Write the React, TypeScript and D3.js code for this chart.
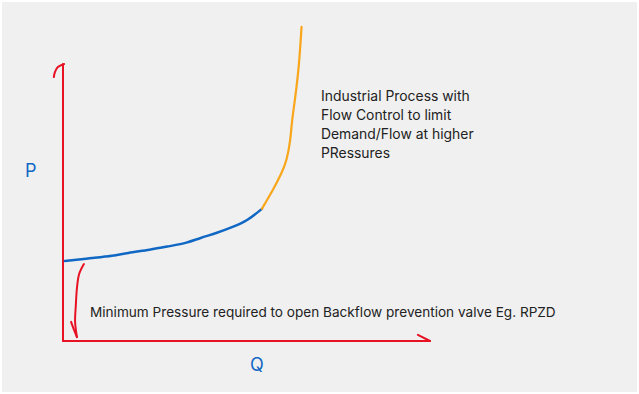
import React from 'react';
import * as d3 from 'd3';

// hand-sketched P-Q curve: blue = normal demand, orange = flow-limited region
const blueQ = [0.5, 8.2, 13.6, 17.4, 23.7, 29.2, 33.8, 37.3, 42.0, 46.3, 50.1, 54.2];
const blueP = [28.9, 30.0, 30.7, 31.8, 32.9, 34.3, 35.4, 37.2, 39.0, 41.2, 43.3, 47.7];
const orangeQ = [54.2, 54.8, 57.2, 59.6, 61.0, 62.0, 62.3, 63.2, 64.3, 65.0];
const orangeP = [47.7, 49.1, 54.5, 60.6, 65.3, 72.6, 78.7, 87.0, 98.9, 113.4];

// min pressure double arrow
const minArrowQ = [5.7, 4.4, 3.8, 3.5, 3.3, 3.8];
const minArrowP = [27.8, 24.2, 19.1, 13.0, 6.9, 1.4];
const minHeadQ = [2.2, 3.0, 3.8];
const minHeadP = [6.9, 4.0, 1.4];

const noteLines = ['Industrial Process with', 'Flow Control to limit', 'Demand/Flow at higher', 'PRessures'];
const minLabel = 'Minimum Pressure required to open Backflow prevention valve Eg. RPZD';

const W = 639;
const H = 394;
const RED = '#e71224';
const BLUE = '#1068c4';
const ORANGE = '#f9a61a';
const FONT = 'Inter, "Open Sans", sans-serif';

export default function App() {
  const x = d3.scaleLinear().domain([0, 100]).range([63, 430]);
  const y = d3.scaleLinear().domain([0, 100]).range([341, 64]);

  const line = d3.line<[number, number]>()
    .x(d => x(d[0]))
    .y(d => y(d[1]))
    .curve(d3.curveCatmullRom.alpha(0.5));
  const smooth = d3.line<[number, number]>()
    .x(d => x(d[0]))
    .y(d => y(d[1]))
    .curve(d3.curveBasis);
  const straight = d3.line<[number, number]>().x(d => x(d[0])).y(d => y(d[1]));

  const zip = (a: number[], b: number[]) => a.map((v, i) => [v, b[i]] as [number, number]);

  const axisV: [number, number][] = [[0, 0], [0, 100]];
  const axisH: [number, number][] = [[0, 0], [100, 0]];
  const topHook: [number, number][] = [[0.3, 100], [-1.4, 98.9], [-2.2, 97.1], [-2.5, 95.3]];
  const rightHook: [number, number][] = [[100, 0], [96.7, 2.2]];

  return (
    <svg width={W} height={H} style={{ display: 'block', position: 'absolute', left: 0, top: 0 }}>
      <rect x={0} y={0} width={W} height={H} fill="#ffffff" />
      <rect x={2} y={2} width={W - 4} height={H - 4} fill="#f0f0f0" />

      <g fill="none" stroke={RED} strokeWidth={2} strokeLinecap="round" strokeLinejoin="round">
        <path d={straight(axisV) || ''} />
        <path d={straight(axisH) || ''} />
        <path d={line(topHook) || ''} />
        <path d={straight(rightHook) || ''} />
        <path d={line(zip(minArrowQ, minArrowP)) || ''} />
        <path d={line(zip(minHeadQ, minHeadP)) || ''} />
      </g>

      <path d={smooth(zip(blueQ, blueP)) || ''} fill="none" stroke={BLUE} strokeWidth={2.5} strokeLinecap="round" />
      <path d={smooth(zip(orangeQ, orangeP)) || ''} fill="none" stroke={ORANGE} strokeWidth={2.2} strokeLinecap="round" />

      <text x={25} y={177} fill={BLUE} fontFamily={FONT} fontSize={18}>P</text>
      <text x={250} y={371} fill={BLUE} fontFamily={FONT} fontSize={18}>Q</text>

      <text fill="#222222" fontFamily={FONT} fontSize={13.9}>
        {noteLines.map((t, i) => (
          <tspan key={i} x={321} y={101 + i * 19}>{t}</tspan>
        ))}
      </text>
      <text x={90} y={317} fill="#222222" fontFamily={FONT} fontSize={13.6}>{minLabel}</text>
    </svg>
  );
}
